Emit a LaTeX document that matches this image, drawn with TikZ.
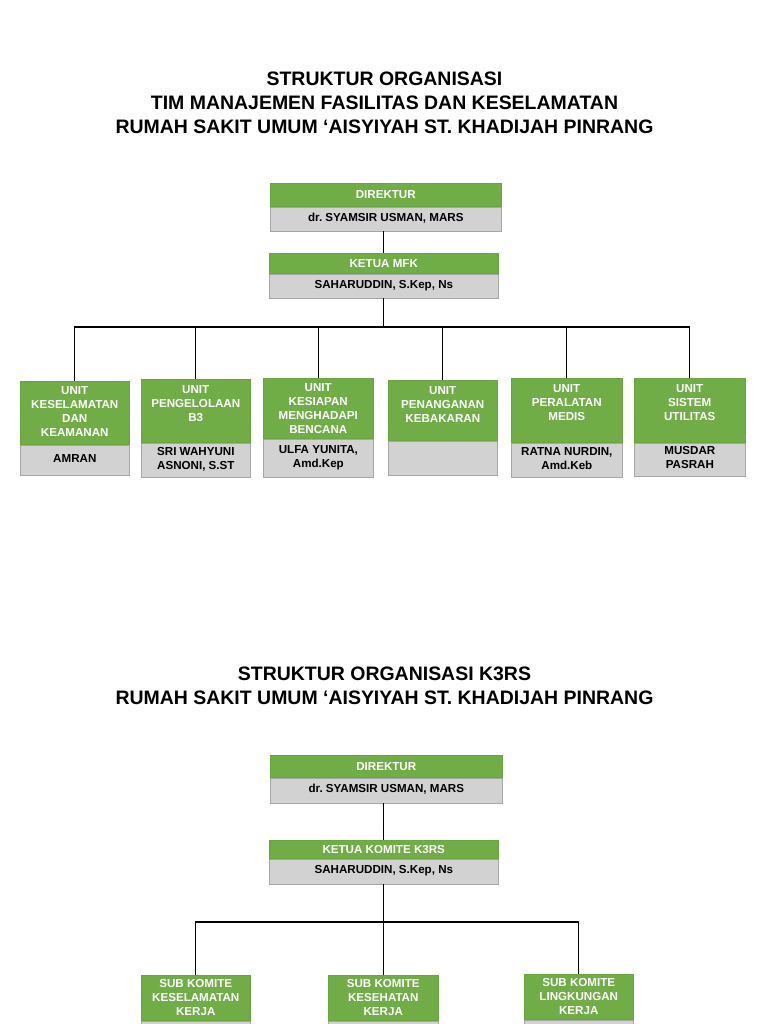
\documentclass[tikz,border=0pt]{standalone}
\usepackage{fontspec}
\setmainfont{Liberation Sans}
\definecolor{gfill}{HTML}{70AD47}
\definecolor{gline}{HTML}{6AA542}
\definecolor{xfill}{HTML}{D2D2D2}
\definecolor{xline}{HTML}{A6A6A6}
\begin{document}
\begin{tikzpicture}[x=0.75pt,y=-0.75pt,
  gbox/.style 2 args={draw=gline, fill=gfill, line width=0.4pt, minimum width=#1*0.75pt, minimum height=#2*0.75pt, inner sep=0pt, anchor=north west, text=white, font=\bfseries\fontsize{8.7}{10.5}\selectfont, align=center},
  xbox/.style 2 args={draw=xline, fill=xfill, line width=0.5pt, minimum width=#1*0.75pt, minimum height=#2*0.75pt, inner sep=0pt, anchor=north west, text=black, font=\bfseries\fontsize{8.7}{10.5}\selectfont, align=center, text depth=2.5pt},
  gtxt/.style={text=white, font=\bfseries\fontsize{8.7}{10.5}\selectfont, align=center, anchor=north, inner sep=0pt},
  title/.style={font=\bfseries\fontsize{14.6}{18}\selectfont, align=center, text=black, inner sep=0pt},
  conn/.style={line width=0.95pt, draw=black}
]
\useasboundingbox (0,0) rectangle (768,1024);
\clip (0,0) rectangle (768,1024);

% ---------- Section 1 ----------
\node[title] (title1) at (384.5,102.5) {STRUKTUR ORGANISASI\\TIM MANAJEMEN FASILITAS DAN KESELAMATAN\\RUMAH SAKIT UMUM ‘AISYIYAH ST. KHADIJAH PINRANG};

\node[gbox={231}{23}] (dir) at (270,183) {DIREKTUR};
\node[xbox={231}{24}] (dirn) at (dir.south west) {dr.\ SYAMSIR USMAN, MARS};

\node[gbox={229}{20}] (ket) at (269,253) {KETUA MFK};
\node[xbox={229}{24}] (ketn) at (ket.south west) {SAHARUDDIN, S.Kep, Ns};

% units
\node[gbox={109}{63}] (u1) at (20,381) {};
\node[gtxt] (u1t) at ([yshift=-4pt]u1.north) {UNIT\\KESELAMATAN\\DAN\\KEAMANAN};
\node[xbox={109}{30}] (u1n) at (u1.south west) {AMRAN};

\node[gbox={109}{63}] (u2) at (141,379) {};
\node[gtxt] (u2t) at ([yshift=-4.5pt]u2.north) {UNIT\\PENGELOLAAN\\B3};
\node[xbox={109}{34}] (u2n) at (u2.south west) {SRI WAHYUNI\\ASNONI, S.ST};

\node[gbox={110}{60}] (u3) at (263,378) {};
\node[gtxt] (u3t) at ([yshift=-4pt]u3.north) {UNIT\\KESIAPAN\\MENGHADAPI\\BENCANA};
\node[xbox={110}{38}] (u3n) at (u3.south west) {ULFA YUNITA,\\Amd.Kep};

\node[gbox={109}{60}] (u4) at (388,380) {};
\node[gtxt] (u4t) at ([yshift=-4.5pt]u4.north) {UNIT\\PENANGANAN\\KEBAKARAN};
\node[xbox={109}{34}] (u4n) at (u4.south west) {};

\node[gbox={111}{64}] (u5) at (511,378) {};
\node[gtxt] (u5t) at ([yshift=-4.5pt]u5.north) {UNIT\\PERALATAN\\MEDIS};
\node[xbox={111}{34}] (u5n) at (u5.south west) {RATNA NURDIN,\\Amd.Keb};

\node[gbox={111}{64}] (u6) at (634,378) {};
\node[gtxt] (u6t) at ([yshift=-4.5pt]u6.north) {UNIT\\SISTEM\\UTILITAS};
\node[xbox={111}{33}] (u6n) at (u6.south west) {MUSDAR\\PASRAH};

\coordinate (bus1) at (383,327);
\draw[conn] (ket.north |- dirn.south) -- (ket.north);
\draw[conn] (ketn.south) -- (ketn.south |- bus1);
\draw[conn] (u1.north) -- (u1.north |- bus1) -- (u6.north |- bus1) -- (u6.north);
\foreach \u in {u2,u3,u4,u5}{\draw[conn] (\u.north) -- (\u.north |- bus1);}

% ---------- Section 2 ----------
\node[title] (title2) at (384.5,686) {STRUKTUR ORGANISASI K3RS\\RUMAH SAKIT UMUM ‘AISYIYAH ST. KHADIJAH PINRANG};

\node[gbox={232}{22}] (dir2) at (270,755) {DIREKTUR};
\node[xbox={232}{25}] (dir2n) at (dir2.south west) {dr.\ SYAMSIR USMAN, MARS};

\node[gbox={229}{18}] (ket2) at (269,840) {KETUA KOMITE K3RS};
\node[xbox={229}{25}] (ket2n) at (ket2.south west) {SAHARUDDIN, S.Kep, Ns};

\node[gbox={109}{45}] (s1) at (141,975) {SUB KOMITE\\KESELAMATAN\\KERJA};
\node[xbox={109}{30}] (s1n) at (s1.south west) {};
\node[gbox={110}{45}] (s2) at (328,975) {SUB KOMITE\\KESEHATAN\\KERJA};
\node[xbox={110}{30}] (s2n) at (s2.south west) {};
\node[gbox={109}{45}] (s3) at (524,974) {SUB KOMITE\\LINGKUNGAN\\KERJA};
\node[xbox={109}{30}] (s3n) at (s3.south west) {};

\coordinate (bus2) at (383,922);
\draw[conn] (ket2.north |- dir2n.south) -- (ket2.north);
\draw[conn] (ket2n.south) -- (ket2n.south |- bus2);
\draw[conn] (s1.north) -- (s1.north |- bus2) -- (s3.north |- bus2) -- (s3.north);
\draw[conn] (s2.north) -- (s2.north |- bus2);
\end{tikzpicture}
\end{document}
